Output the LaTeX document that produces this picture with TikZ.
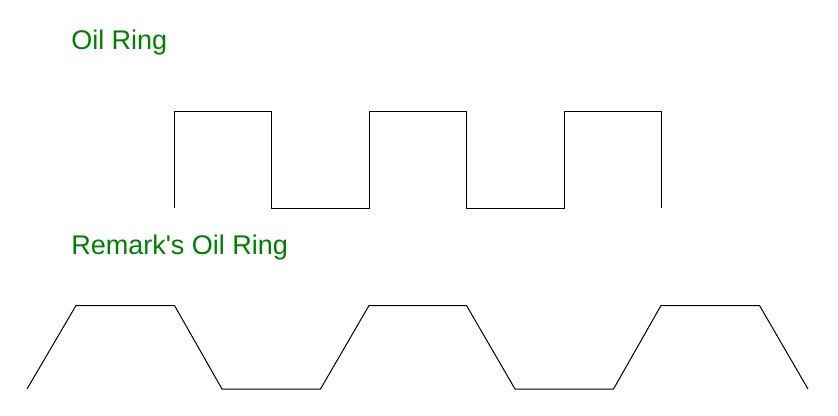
\documentclass[tikz,border=0pt]{standalone}
\usepackage{fontspec}
\setmainfont{Liberation Sans}
\usetikzlibrary{positioning}
\definecolor{ringgreen}{RGB}{0,128,0}
\tikzset{
        x=0.75pt, y=-0.75pt, % one unit is one pixel of the sketch, y grows downwards
        title/.style={text=ringgreen, font=\fontsize{20.25}{24}\selectfont, inner sep=0pt, anchor=base west}, % heading over each profile
        profile/.style={black, line width=0.75pt, line join=miter}, % the ring profile lines
        }

\begin{document}
\begin{tikzpicture}
        \useasboundingbox (0,0) rectangle (838,415);
        % headings
        \node[title] (OilRing) at (71,49) {Oil Ring};
        \node[title] (RemarkRing) at (71,254) {Remark\textquotesingle s Oil Ring};

        % square profile
        \draw[profile] (174,208) -- (174,111) -- (271,111) -- (271,208)
                -- (369,208) -- (369,111) -- (466,111) -- (466,208)
                -- (564,208) -- (564,111) -- (661,111) -- (661,208);

        % trapezoid profile
        \draw[profile] (27,389) -- (76,305.5) -- (174.5,305.5) -- (222,389)
                -- (320.5,389) -- (369,305.5) -- (466.5,305.5) -- (515,389)
                -- (613.5,389) -- (661,305.5) -- (759.5,305.5) -- (808,389);
\end{tikzpicture}
\end{document}
